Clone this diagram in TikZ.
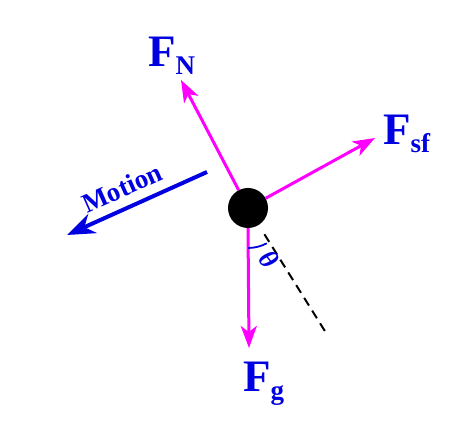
\documentclass[tikz,border=0pt]{standalone}
\usepackage{fontspec}
\setmainfont{Liberation Serif}
\usetikzlibrary{arrows.meta, calc}
\definecolor{forcecol}{RGB}{255,0,255}
\definecolor{labelcol}{RGB}{0,0,225}
\newcommand{\forcelabel}[2]{\fontsize{45}{45}\selectfont\bfseries #1\raisebox{-8pt}{\fontsize{27}{27}\selectfont #2}}

\begin{document}
\begin{tikzpicture}[x=1pt,y=1pt,
    force/.style={draw=forcecol, line width=3pt, -{Stealth[length=22pt,width=16pt,inset=6pt]}},
    ball/.style={circle, fill=black, minimum size=40pt, inner sep=0pt},
    lbl/.style={text=labelcol, inner sep=0pt, anchor=base west}]
  \useasboundingbox (0,0) rectangle (450,438);
  % the mass and the forces on it
  \node[ball] (m) at (248,230) {};
  \coordinate (tipN)  at (181,358);
  \coordinate (tipSF) at (375,300);
  \coordinate (tipG)  at (249,90);
  \draw[force] (m) -- (tipN);
  \draw[force] (m) -- (tipSF);
  \draw[force] (m.south) -- (tipG);
  \node[lbl] (lN)  at (148,371) {\forcelabel{F}{N}};
  \node[lbl] (lSF) at (383,293) {\forcelabel{F}{sf}};
  \node[lbl] (lG)  at (243,46)  {\forcelabel{F}{g}};
  % normal direction and angle
  \coordinate (d1) at ($(m)+(-58:31)$);
  \coordinate (d2) at ($(m)+(-58:146)$);
  \draw[line width=2pt, dash pattern=on 9pt off 6pt] (d1) -- (d2);
  \draw[labelcol, line width=1.8pt] ($(m)+(-90:40)$) arc[start angle=-90, end angle=-62, radius=40];
  \node[text=labelcol, inner sep=0pt, rotate=-52] (th) at (269,179) {\fontsize{27}{27}\selectfont\bfseries\itshape θ};
  % direction of motion
  \coordinate (mS) at (207,266);
  \coordinate (mE) at (67,203);
  \draw[draw=labelcol, line width=4pt, -{Stealth[length=28pt,width=21pt,inset=9pt]}] (mS) -- (mE);
  \node[text=labelcol, inner sep=0pt, rotate=24] (mot) at (122,250) {\fontsize{27}{27}\selectfont\bfseries Motion};
\end{tikzpicture}
\end{document}
